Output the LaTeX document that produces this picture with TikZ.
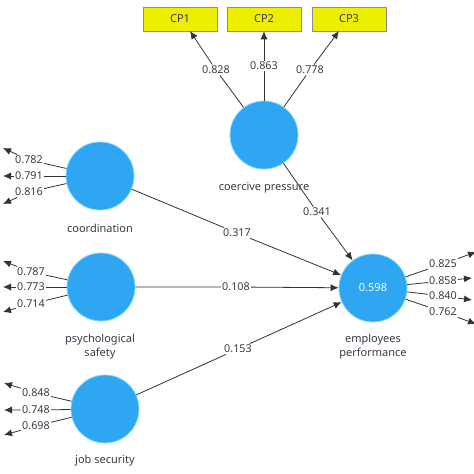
\documentclass[tikz,border=0pt]{standalone}
\usepackage{fontspec}
\setmainfont{Noto Sans}
\usetikzlibrary{arrows.meta}
\definecolor{lv}{HTML}{2EA6F2}
\definecolor{lvb}{HTML}{7FD8FF}
\definecolor{ind}{HTML}{EEEE00}
\definecolor{txt}{HTML}{3A3A48}
\tikzset{
  latent/.style={circle,fill=lv,draw=lvb,line width=0.8pt,minimum size=68pt,inner sep=0pt,font=\fontsize{11}{12}\selectfont,text=white},
  indbox/.style={rectangle,fill=ind,draw=black!45,line width=0.5pt,minimum width=74pt,minimum height=24pt,inner sep=0pt,font=\fontsize{11}{12}\selectfont,text=txt},
  lab/.style={fill=white,inner sep=1.2pt,font=\fontsize{10.8}{12}\selectfont,text=txt},
  lvname/.style={font=\fontsize{11}{14}\selectfont,text=txt,align=center},
  con/.style={draw=black!80,line width=0.8pt},
  arr/.style={con,-{Latex[length=8pt,width=7pt]}},
}
\begin{document}
\begin{tikzpicture}[x=1pt,y=-1pt]
\useasboundingbox[fill=white] (0,0) rectangle (474,474);
% latent variables
\node[latent] (co) at (100,176) {};
\node[latent] (ps) at (101,287) {};
\node[latent] (js) at (105,409) {};
\node[latent] (cp) at (264,135) {};
\node[latent] (ep) at (373,288) {0.598};
% names
\node[lvname] (nco) at (100,228) {coordination};
\node[lvname] (nps) at (100,347) {psychological\\safety};
\node[lvname] (njs) at (105,461) {job security};
\node[lvname] (ncp) at (264,188) {coercive pressure};
\node[lvname] (nep) at (373,347) {employees\\performance};
% indicator boxes
\node[indbox] (cp1) at (180,19) {CP1};
\node[indbox] (cp2) at (264,19) {CP2};
\node[indbox] (cp3) at (349,19) {CP3};
% off-image indicator ends
\coordinate (c1) at (3,148); \coordinate (c2) at (3,176); \coordinate (c3) at (3,204);
\coordinate (p1) at (3,261); \coordinate (p2) at (3,287); \coordinate (p3) at (3,312);
\coordinate (j1) at (4,383); \coordinate (j2) at (4,410); \coordinate (j3) at (4,435);
\coordinate (e1) at (476,252); \coordinate (e2) at (472,278); \coordinate (e3) at (472,300); \coordinate (e4) at (476,324);
\coordinate (t1) at (190,31); \coordinate (t3) at (339,31);
% loading labels
\node[lab] (lc1) at (29,160) {0.782};
\node[lab] (lc2) at (29,176) {0.791};
\node[lab] (lc3) at (29,192) {0.816};
\node[lab] (lp1) at (31,272) {0.787};
\node[lab] (lp2) at (31,287) {0.773};
\node[lab] (lp3) at (31,304) {0.714};
\node[lab] (lj1) at (36,393) {0.848};
\node[lab] (lj2) at (36,410) {0.748};
\node[lab] (lj3) at (36,426) {0.698};
\node[lab] (le1) at (443,264) {0.825};
\node[lab] (le2) at (443,281) {0.858};
\node[lab] (le3) at (443,296) {0.840};
\node[lab] (le4) at (443,312) {0.762};
\node[lab] (lt1) at (216,70) {0.828};
\node[lab] (lt2) at (264,66) {0.863};
\node[lab] (lt3) at (310,70) {0.778};
% path labels
\node[lab] (s1) at (237,233) {0.317};
\node[lab] (s2) at (236,287) {0.108};
\node[lab] (s3) at (238,349) {0.153};
\node[lab] (s4) at (317,212) {0.341};
% outer loadings
\draw[arr] (co) -- (lc1) -- (c1);
\draw[arr] (co) -- (lc2) -- (c2);
\draw[arr] (co) -- (lc3) -- (c3);
\draw[arr] (ps) -- (lp1) -- (p1);
\draw[arr] (ps) -- (lp2) -- (p2);
\draw[arr] (ps) -- (lp3) -- (p3);
\draw[arr] (js) -- (lj1) -- (j1);
\draw[arr] (js) -- (lj2) -- (j2);
\draw[arr] (js) -- (lj3) -- (j3);
\draw[arr] (ep) -- (le1) -- (e1);
\draw[arr] (ep) -- (le2) -- (e2);
\draw[arr] (ep) -- (le3) -- (e3);
\draw[arr] (ep) -- (le4) -- (e4);
\draw[arr] (cp) -- (lt1) -- (t1);
\draw[arr] (cp) -- (lt2) -- (cp2);
\draw[arr] (cp) -- (lt3) -- (t3);
% structural paths
\draw[arr] (co) -- (s1) -- (ep);
\draw[arr] (ps) -- (s2) -- (ep);
\draw[arr] (js) -- (s3) -- (ep);
\draw[arr] (cp) -- (s4) -- (ep);
\end{tikzpicture}
\end{document}
